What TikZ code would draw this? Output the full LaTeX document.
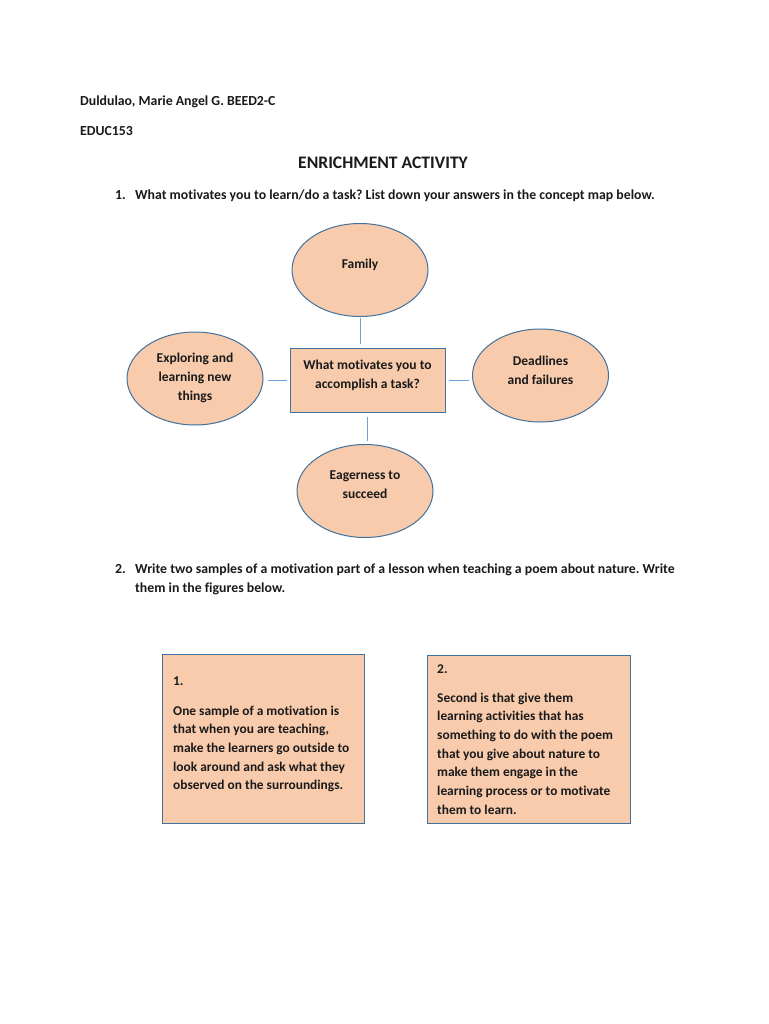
\documentclass[tikz,border=0pt]{standalone}
\usepackage{fontspec}
\setmainfont[Ligatures=NoCommon]{Carlito}
\usetikzlibrary{shapes.geometric}
\definecolor{peach}{HTML}{F8CBAD}
\definecolor{edgeblue}{HTML}{41719C}
\definecolor{connblue}{HTML}{6F9FD8}
\definecolor{inkgray}{HTML}{1A1A1A}
\frenchspacing
\begin{document}
\begin{tikzpicture}[x=1pt,y=-1pt,
  txt/.style={anchor=base west, inner sep=0pt, text=inkgray, font=\bfseries\fontsize{13.8}{19}\selectfont},
  titletxt/.style={anchor=base, inner sep=0pt, text=inkgray, font=\bfseries\fontsize{17.6}{21}\selectfont},
  bubble/.style={ellipse, draw=edgeblue, fill=peach, line width=1pt, minimum width=136pt, minimum height=93pt, inner sep=0pt},
  etext/.style={align=center, inner sep=0pt, text=inkgray, font=\bfseries\fontsize{13.5}{19}\selectfont},
  qbox/.style={rectangle, draw=edgeblue, fill=peach, line width=1pt, inner sep=0pt},
  btext/.style={anchor=north west, align=left, inner sep=0pt, text=inkgray, font=\bfseries\fontsize{13.4}{18.7}\selectfont},
  conn/.style={draw=connblue, line width=0.8pt}
]
\useasboundingbox[fill=white] (0,0) rectangle (768,1024);

% header
\node[txt] (name) at (80,106) {Duldulao, Marie Angel G. BEED2-C};
\node[txt] (course) at (80,136) {EDUC153};
\node[titletxt] (title) at (383,169) {ENRICHMENT ACTIVITY};
\node[txt] (q1num) at (115,199.5) {1.};
\node[txt] (q1) at (135,199.5) {What motivates you to learn/do a task? List down your answers in the concept map below.};

% concept map
\node[qbox, minimum width=155pt, minimum height=64pt] (center) at (367.5,380) {};
\node[etext] (centert) at (367.5,375) {What motivates you to\\accomplish a task?};

\node[bubble] (fam) at (360,270) {};
\node[etext] (famt) at (360,265) {Family};
\node[bubble] (expl) at (195,378.5) {};
\node[etext] (explt) at (195,378) {Exploring and\\learning new\\things};
\node[bubble] (dead) at (540.5,375.5) {};
\node[etext] (deadt) at (540.5,370) {Deadlines\\and failures};
\node[bubble] (eag) at (365,491) {};
\node[etext] (eagt) at (365,485) {Eagerness to\\succeed};

\draw[conn, shorten <=0.5pt, shorten >=4pt] (fam.south) -- (fam.south |- center.north);
\draw[conn, shorten <=4pt, shorten >=3pt] (center.south) -- (center.south |- eag.north);
\draw[conn, shorten <=3pt, shorten >=4pt] (center.west) -- (center.west -| expl.east);
\draw[conn, shorten <=3pt, shorten >=3pt] (center.east) -- (center.east -| dead.west);

% question 2
\node[txt] (q2num) at (115,573.5) {2.};
\node[txt] (q2a) at (135,573.5) {Write two samples of a motivation part of a lesson when teaching a poem about nature. Write};
\node[txt] (q2b) at (135,592.5) {them in the figures below.};

% answer boxes
\node[qbox, minimum width=202pt, minimum height=169pt] (box1) at (263,738.5) {};
\node[btext] (box1num) at (173,676.5) {1.};
\node[btext] (box1t) at (173,705.5) {One sample of a motivation is\\that when you are teaching,\\make the learners go outside to\\look around and ask what they\\observed on the surroundings.};

\node[qbox, minimum width=203pt, minimum height=168pt] (box2) at (528.5,739) {};
\node[btext] (box2num) at (437,664.5) {2.};
\node[btext] (box2t) at (437,692.5) {Second is that give them\\learning activities that has\\something to do with the poem\\that you give about nature to\\make them engage in the\\learning process or to motivate\\them to learn.};
\end{tikzpicture}
\end{document}
